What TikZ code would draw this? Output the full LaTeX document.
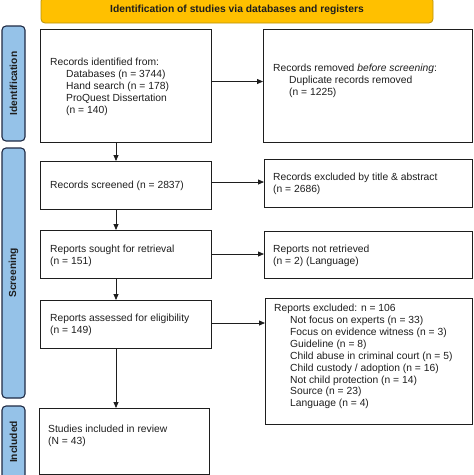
\documentclass[tikz,border=0pt]{standalone}
\usepackage{fontspec}
\setmainfont{Liberation Sans}
\usetikzlibrary{arrows.meta,calc}
\definecolor{gold}{HTML}{FFC000}
\definecolor{goldline}{HTML}{B8900A}
\definecolor{side}{HTML}{95C2E8}
\definecolor{sideline}{HTML}{1F2A44}
\definecolor{ink}{HTML}{1E1E1E}
\tikzset{
  box/.style={draw=ink, line width=1pt, fill=white, inner sep=0pt, outer sep=0pt},
  sidebox/.style={draw=sideline, line width=1.1pt, fill=side, rounded corners=4pt, inner sep=0pt, outer sep=0pt},
  titlebox/.style={draw=goldline, line width=0.8pt, fill=gold, rounded corners=4pt, inner sep=0pt, outer sep=0pt,
    font=\fontsize{10.3}{12}\selectfont\bfseries, text=ink},
  sidetxt/.style={rotate=90, font=\fontsize{10.2}{12}\selectfont\bfseries, text=ink, inner sep=0pt},
  txt/.style={anchor=north west, align=left, inner sep=0pt, text=ink,
    font=\fontsize{10.3}{11.9}\selectfont},
  arr/.style={draw=ink, line width=0.8pt, -{Triangle[length=6pt,width=5pt]}}
}
\newcommand{\ind}{\hspace*{16pt}}
\begin{document}
\begin{tikzpicture}
\useasboundingbox (0,0) rectangle (474pt,-475pt);
\clip (0,0) rectangle (474pt,-475pt);
\begin{scope}[x=1pt,y=1pt]
% title
\node[titlebox, minimum width=392pt, minimum height=26pt] (title) at (237,-10) {Identification of studies via databases and registers};
% sidebars
\node[sidebox, minimum width=23pt, minimum height=115pt] (sI) at (13.5,-83.5) {};
\node[sidebox, minimum width=23pt, minimum height=250pt] (sS) at (13.5,-273) {};
\node[sidebox, minimum width=23pt, minimum height=76pt] (sN) at (13.5,-444) {};
\node[sidetxt] (tI) at (sI.center) {Identification};
\node[sidetxt] (tS) at (sS.center) {Screening};
\node[sidetxt] (tN) at (13.5,-442) {Included};
% boxes
\node[box, minimum width=171pt, minimum height=113pt] (L1) at (125.5,-85.5) {};
\node[box, minimum width=209.5pt, minimum height=113pt] (R1) at (367.75,-85.5) {};
\node[box, minimum width=171pt, minimum height=48pt] (L2) at (125.5,-185) {};
\node[box, minimum width=208.5pt, minimum height=48pt] (R2) at (368.25,-183) {};
\node[box, minimum width=171pt, minimum height=48pt] (L3) at (125.5,-254) {};
\node[box, minimum width=208.5pt, minimum height=47pt] (R3) at (368.25,-254.5) {};
\node[box, minimum width=171pt, minimum height=48pt] (L4) at (125.5,-324) {};
\node[box, minimum width=207.5pt, minimum height=126pt] (R4) at (368.75,-361) {};
\node[box, minimum width=170pt, minimum height=66pt] (L5) at (124,-441) {};
% texts
\node[txt] (xL1) at (50,-58.2) {Records identified from:\\ \ind Databases (n = 3744)\\ \ind Hand search (n = 178)\\ \ind ProQuest Dissertation\\ \ind (n = 140)};
\node[txt] (xR1) at (273,-64) {Records removed \textit{before screening}:\\ \ind Duplicate records removed\\ \ind (n = 1225)};
\node[txt] (xL2) at (50,-181) {Records screened (n = 2837)};
\node[txt] (xR2) at (273,-173) {Records excluded by title \& abstract\\ (n = 2686)};
\node[txt] (xL3) at (50,-245) {Reports sought for retrieval\\ (n = 151)};
\node[txt] (xR3) at (273,-245) {Reports not retrieved\\ (n = 2) (Language)};
\node[txt] (xL4) at (50,-314) {Reports assessed for eligibility\\ (n = 149)};
\node[txt] (xR4) at (274,-304) {Reports excluded: n = 106\\ \ind Not focus on experts (n = 33)\\ \ind Focus on evidence witness (n = 3)\\ \ind Guideline (n = 8)\\ \ind Child abuse in criminal court (n = 5)\\ \ind Child custody / adoption (n = 16)\\ \ind Not child protection (n = 14)\\ \ind Source (n = 23)\\ \ind Language (n = 4)};
\node[txt] (xL5) at (48,-425) {Studies included in review\\ (N = 43)};
% arrows
\coordinate (ax) at (116,0);
\draw[arr] ([yshift=4]L1.east) -- ([yshift=4]L1.east -| R1.west);
\draw[arr] ([yshift=3]L2.east) -- ([yshift=3]L2.east -| R2.west);
\draw[arr] (L3.east) -- (L3.east -| R3.west);
\draw[arr] ([yshift=1]L4.east) -- ([yshift=1]L4.east -| R4.west);
\draw[arr] (L1.south -| ax) -- (L2.north -| ax);
\draw[arr] (L2.south -| ax) -- (L3.north -| ax);
\draw[arr] (L3.south -| ax) -- (L4.north -| ax);
\draw[arr] (L4.south -| ax) -- (L5.north -| ax);
\end{scope}
\end{tikzpicture}
\end{document}
